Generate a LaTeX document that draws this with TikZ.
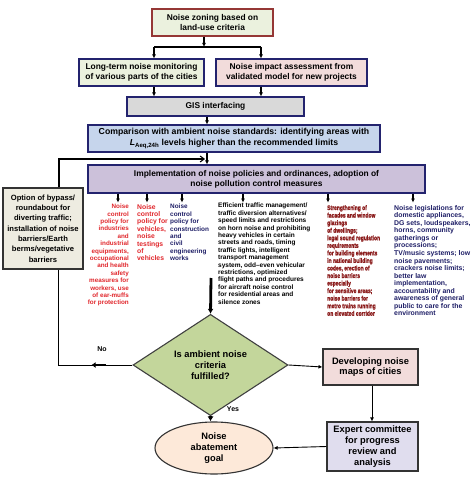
\documentclass[tikz,border=0pt]{standalone}
\usepackage{fontspec}
\setmainfont{Liberation Sans}
\newfontfamily\narrowbold[FakeStretch=0.74,FakeBold=1.6]{Liberation Sans Bold}
\usetikzlibrary{arrows.meta,shapes.geometric,calc}
\definecolor{navy}{HTML}{23236E}
\definecolor{brd}{HTML}{953735}
\definecolor{fgreen}{HTML}{EBF1DE}
\definecolor{fpink}{HTML}{F2DCDB}
\definecolor{fgray}{HTML}{D9D9D9}
\definecolor{fblue}{HTML}{C6D5EC}
\definecolor{flav}{HTML}{CCC1DA}
\definecolor{fopt}{HTML}{EEECE1}
\definecolor{fdia}{HTML}{C3D69B}
\definecolor{fexp}{HTML}{E0DDEE}
\definecolor{fell}{HTML}{FDE9D9}
\definecolor{tred}{HTML}{E0262B}
\definecolor{tbrown}{HTML}{8B1C1C}
\definecolor{tnavy}{HTML}{1E1E66}
\tikzset{
  box/.style={draw=navy,line width=1.1pt,inner sep=0pt,align=center,font=\fontsize{8.4}{10.3}\selectfont\bfseries},
  bigbox/.style={box,font=\fontsize{9.3}{10.8}\selectfont\bfseries},
  coltext/.style={inner sep=0pt,font=\fontsize{6.4}{7.4}\selectfont\bfseries},
  arr/.style={line width=1.5pt,-{Latex[length=4pt,width=4pt]}},
  thinarr/.style={line width=0.9pt,-{Latex[length=4pt,width=4pt]}},
  fatarr/.style={line width=2.8pt,-{Latex[length=5pt,width=6pt]}},
  plain/.style={line width=1.5pt},
  lbl/.style={inner sep=0pt,font=\fontsize{7}{8}\selectfont\bfseries}
}
\begin{document}
\begin{tikzpicture}[x=1pt,y=-1pt]
\useasboundingbox (0,0) rectangle (474,481);
% boxes
\node[box,draw=brd,fill=fgreen,minimum width=121pt,minimum height=27pt] (top) at (212.5,22.5) {Noise zoning based on\\land-use criteria};
\node[box,fill=fgreen,minimum width=125pt,minimum height=27pt] (lt) at (141.5,72.5) {Long-term noise monitoring\\of various parts of the cities};
\node[box,fill=fpink,minimum width=151pt,minimum height=27pt] (imp) at (291.5,72.5) {Noise impact assessment from\\validated model for new projects};
\node[box,fill=fgray,minimum width=177pt,minimum height=19pt] (gis) at (215.5,106.5) {GIS interfacing};
\node[box,font=\fontsize{8.7}{11}\selectfont\bfseries,fill=fblue,minimum width=292pt,minimum height=27pt] (cmp) at (234,138.5) {Comparison with ambient noise standards: identifying areas with\\{\itshape L}\textsubscript{Aeq,24h} levels higher than the recommended limits};
\node[box,fill=flav,minimum width=337pt,minimum height=28pt] (impl) at (256.5,179) {Implementation of noise policies and ordinances, adoption of\\noise pollution control measures};
\node[box,font=\fontsize{7.6}{10.3}\selectfont\bfseries,draw=black!80,fill=fopt,minimum width=80pt,minimum height=81pt] (opt) at (43,228.5) {Option of bypass/\\roundabout for\\diverting traffic;\\installation of noise\\barriers/Earth\\berms/vegetative\\barriers};
\node[bigbox,draw=black!75,fill=fdia,shape=diamond,minimum width=155pt,minimum height=74pt] (dia) at (210.5,365) {Is ambient noise\\criteria\\fulfilled?};
\node[bigbox,draw=black!80,fill=fpink,minimum width=95pt,minimum height=36pt] (dev) at (370.5,367) {Developing noise\\maps of cities};
\node[bigbox,draw=black!80,fill=fexp,minimum width=91pt,minimum height=49pt] (exp) at (372.5,446.5) {Expert committee\\for progress\\review and\\analysis};
\node[bigbox,draw=black!80,fill=fell,shape=ellipse,minimum width=118pt,minimum height=52pt] (goal) at (214,448) {Noise\\abatement\\goal};
% column texts
\node[coltext,font=\fontsize{6.3}{7.4}\selectfont\bfseries,text=tred,align=right,anchor=north east] (c1) at (129,204) {Noise\\control\\policy for\\industries\\and\\industrial\\equipments,\\occupational\\and health\\safety\\measures for\\workers, use\\of ear-muffs\\for protection};
\node[coltext,font=\fontsize{6.8}{7.4}\selectfont\bfseries,text=tred,align=left,anchor=north west] (c2) at (137,204) {Noise\\control\\policy for\\vehicles,\\noise\\testings\\of\\vehicles};
\node[coltext,text=tnavy,align=left,anchor=north west] (c3) at (170,204) {Noise\\control\\policy for\\construction\\and\\civil\\engineering\\works};
\node[coltext,font=\fontsize{6.5}{7.4}\selectfont\bfseries,text=black,align=left,anchor=north west] (c4) at (218,203) {Efficient traffic management/\\traffic diversion alternatives/\\speed limits and restrictions\\on horn noise and prohibiting\\heavy vehicles in certain\\streets and roads, timing\\traffic lights, intelligent\\transport management\\system, odd--even vehicular\\restrictions, optimized\\flight paths and procedures\\for aircraft noise control\\for residential areas and\\silence zones};
\node[coltext,font=\fontsize{6.7}{7.55}\narrowbold,text=tbrown,align=left,anchor=north west] (c5) at (327,205) {Strengthening of\\facades and window\\glazings\\of dwellings;\\legal sound regulation\\requirements\\for building elements\\in national building\\codes, erection of\\noise barriers\\especially\\for sensitive areas;\\noise barriers for\\metro trains running\\on elevated corridor};
\node[coltext,font=\fontsize{6.9}{7.55}\selectfont\bfseries,text=tnavy,align=left,anchor=north west] (c6) at (394,205) {Noise legislations for\\domestic appliances,\\DG sets, loudspeakers,\\horns, community\\gatherings or\\processions;\\TV/music systems; low\\noise pavements;\\crackers noise limits;\\better law\\implementation,\\accountability and\\awareness of general\\public to care for the\\environment};
% labels
\node[lbl] (no) at (102,349) {No};
\node[lbl] (yes) at (233,409) {Yes};
% coordinates
\coordinate (br) at (204,47);
\coordinate (brl) at (154,47);
\coordinate (brr) at (261,47);
\coordinate (fb) at (59,159);
\coordinate (fbend) at (207,159);
\coordinate (nocorner) at (58,365);
\coordinate (thickstart) at (211,278);
% connectors top
\draw[arr] (top.south -| br) -- (br);
\draw[plain] (brl) -- (brr);
\draw[arr] (brl) -- (lt.north -| brl);
\draw[arr] (brr) -- (imp.north -| brr);
\draw[arr] (lt.south -| brl) -- (gis.north -| brl);
\draw[arr] (imp.south -| brr) -- (gis.north -| brr);
\draw[arr] (gis.south -| fbend) -- (cmp.north -| fbend);
\draw[arr] (cmp.south -| fbend) -- (impl.north -| fbend);
\draw[line width=1.1pt,-{Straight Barb[length=4pt,width=6pt]}] (opt.north -| fb) -- (fb) -- ($(fbend)+(-2,0)$);
% implementation to columns
\foreach \xx in {118,147,182,243,328,413}{
  \draw[arr] (impl.south -| \xx,0) -- ++(0,9);
}
% lower
\draw[fatarr] (thickstart) -- (dia.north);
\draw[line width=1pt] (dia.west) -- (nocorner) -- (opt.south -| nocorner);
\draw[line width=2.6pt,-{Latex[length=4pt,width=6pt]}] ($(dia.west)!0.35!(nocorner)$) -- ($(dia.west)!0.55!(nocorner)$);
\draw[thinarr] (dia.east) -- (dev.west);
\draw[thinarr] (dev.south -| 372,0) -- (exp.north -| 372,0);
\draw[thinarr] (exp.west) -- (goal.east);
\draw[fatarr] (dia.south) -- (goal.north -| dia.south);
\end{tikzpicture}
\end{document}
